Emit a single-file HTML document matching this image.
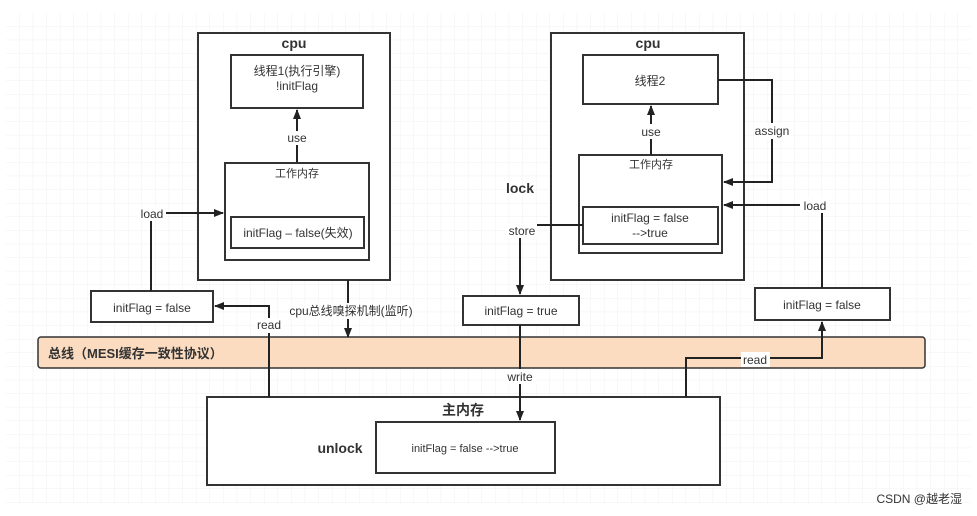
<!DOCTYPE html>
<html><head><meta charset="utf-8"><style>
html,body{margin:0;padding:0;background:#fff;}
svg{display:block;}
text{font-family:"Liberation Sans","Noto Sans CJK SC",sans-serif;fill:#333;}
</style></head><body>
<svg width="977" height="516" viewBox="0 0 977 516" xmlns="http://www.w3.org/2000/svg">
<defs>
<pattern id="g" x="6" y="13" width="13.6" height="13.6" patternUnits="userSpaceOnUse">
<path d="M13.6 0V13.6H0" fill="none" stroke="#f0f0f0" stroke-width="1"/>
</pattern>
<marker id="a" markerWidth="10" markerHeight="10" refX="9" refY="5" orient="auto" markerUnits="userSpaceOnUse">
<path d="M0,1 L10,5 L0,9 Z" fill="#222"/>
</marker>
</defs>
<rect x="6" y="13" width="965" height="490" fill="url(#g)"/>
<g fill="none" stroke="#333" stroke-width="2">
<!-- left cpu -->
<rect x="198" y="33" width="192" height="247" fill="#fff"/>
<rect x="231" y="55" width="132" height="53"/>
<rect x="225" y="163" width="144" height="97"/>
<rect x="231" y="217" width="133" height="31"/>
<!-- right cpu -->
<rect x="551" y="33" width="193" height="247" fill="#fff"/>
<rect x="583" y="55" width="135" height="49"/>
<rect x="579" y="155" width="143" height="98"/>
<rect x="583" y="207" width="135" height="37"/>
<!-- small boxes -->
<rect x="91" y="291" width="122" height="31" fill="#fff"/>
<rect x="463" y="296" width="116" height="29" fill="#fff"/>
<rect x="755" y="288" width="135" height="32" fill="#fff"/>
<!-- main mem -->
<rect x="207" y="397" width="513" height="88" fill="#fff"/>
<rect x="376" y="422" width="179" height="51" fill="#fff"/>
</g>
<rect x="38" y="337" width="887" height="31" rx="3" fill="#fcdcc0" stroke="#333" stroke-width="1.5"/>
<g fill="none" stroke="#222" stroke-width="2">
<path d="M297 162V110" marker-end="url(#a)"/>
<path d="M151 291V213H223" marker-end="url(#a)"/>
<path d="M269 397V306H215" marker-end="url(#a)"/>
<path d="M348 280V337" marker-end="url(#a)"/>
<path d="M651 155V106" marker-end="url(#a)"/>
<path d="M718 80H772V182H724" marker-end="url(#a)"/>
<path d="M822 288V205H724" marker-end="url(#a)"/>
<path d="M583 225H520V294" marker-end="url(#a)"/>
<path d="M520 325V420" marker-end="url(#a)"/>
<path d="M686 397V358H822V322" marker-end="url(#a)"/>
</g>
<!-- label backgrounds -->
<g fill="#fff">
<rect x="284" y="131" width="26" height="14"/>
<rect x="636" y="124" width="30" height="15"/>
<rect x="754" y="123" width="37" height="16"/>
<rect x="138" y="206" width="28" height="15"/>
<rect x="800" y="198" width="30" height="15"/>
<rect x="505" y="224" width="32" height="14"/>
<rect x="255" y="318" width="28" height="15"/>
<rect x="289" y="303" width="124" height="16"/>
<rect x="505" y="369" width="32" height="15"/>
<rect x="741" y="352" width="29" height="15"/>
</g>
<g font-size="12" text-anchor="middle">
<text x="294" y="48" font-size="14" font-weight="bold" fill="#222">cpu</text>
<text x="297" y="75">线程1(执行引擎)</text>
<text x="297" y="90">!initFlag</text>
<text x="297" y="142">use</text>
<text x="297" y="177" font-size="11">工作内存</text>
<text x="298" y="237">initFlag – false(失效)</text>
<text x="152" y="218">load</text>
<text x="152" y="312">initFlag = false</text>
<text x="269" y="329">read</text>
<text x="351" y="315">cpu总线嗅探机制(监听)</text>
<text x="648" y="48" font-size="14" font-weight="bold" fill="#222">cpu</text>
<text x="650" y="85">线程2</text>
<text x="651" y="136">use</text>
<text x="651" y="168" font-size="11">工作内存</text>
<text x="650" y="222">initFlag = false</text>
<text x="650" y="237">--&gt;true</text>
<text x="772" y="135">assign</text>
<text x="815" y="210">load</text>
<text x="520" y="193" font-size="14" font-weight="bold" fill="#222">lock</text>
<text x="522" y="235">store</text>
<text x="521" y="315">initFlag = true</text>
<text x="822" y="309">initFlag = false</text>
<text x="520" y="381">write</text>
<text x="755" y="364">read</text>
<text x="463" y="415" font-size="14" font-weight="bold" fill="#222">主内存</text>
<text x="340" y="453" font-size="14" font-weight="bold" fill="#222">unlock</text>
<text x="465" y="452" font-size="11">initFlag = false --&gt;true</text>
</g>
<text x="48" y="358" font-size="13" font-weight="bold" fill="#222">总线（MESI缓存一致性协议）</text>
<text x="962" y="503" font-size="12" text-anchor="end" fill="#888">CSDN @越老湿</text>
</svg>
</body></html>
